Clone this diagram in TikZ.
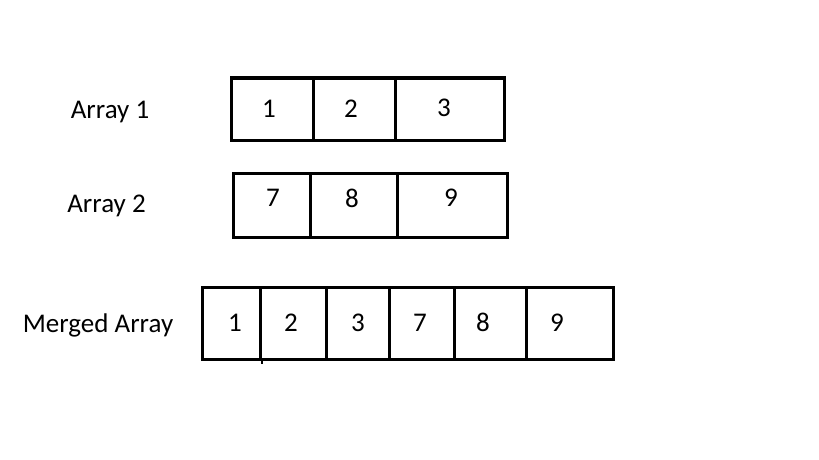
\documentclass[tikz,border=0pt]{standalone}
\usepackage{fontspec}
\setmainfont{Carlito}
\usepackage{tikz}

\begin{document}
\begin{tikzpicture}[x=1pt,y=-1pt]
    \tikzset{cell/.style = {shape=rectangle,draw,line width=3pt,inner sep=0pt}}
    \tikzset{txt/.style = {font=\fontsize{27}{32}\selectfont,inner sep=0pt}}
    \useasboundingbox (0,0) rectangle (819,460);
    % labels
    \node[txt,anchor=base] (l1) at (110,118) {Array 1};
    \node[txt,anchor=base] (l2) at (106.5,212) {Array 2};
    \node[txt,anchor=base] (l3) at (98,332) {Merged Array};
    % array 1
    \node[cell,minimum width=82pt,minimum height=62pt] (a1) at (272,109) {};
    \node[cell,minimum width=82pt,minimum height=62pt] (a2) at (354,109) {};
    \node[cell,minimum width=109pt,minimum height=62pt] (a3) at (449.5,109) {};
    \node[txt] (t11) at (269,108.5) {1};
    \node[txt] (t12) at (351,108.5) {2};
    \node[txt] (t13) at (444,107.5) {3};
    % array 2
    \node[cell,minimum width=77pt,minimum height=64pt] (b1) at (271.5,205) {};
    \node[cell,minimum width=87pt,minimum height=64pt] (b2) at (353.5,205) {};
    \node[cell,minimum width=110pt,minimum height=64pt] (b3) at (452,205) {};
    \node[txt] (t21) at (273,198) {7};
    \node[txt] (t22) at (352,198) {8};
    \node[txt] (t23) at (451,198) {9};
    % merged array
    \node[cell,minimum width=58pt,minimum height=72pt] (c1) at (231,323) {};
    \node[cell,minimum width=66pt,minimum height=72pt] (c2) at (293,323) {};
    \node[cell,minimum width=63pt,minimum height=72pt] (c3) at (357.5,323) {};
    \node[cell,minimum width=65pt,minimum height=72pt] (c4) at (421.5,323) {};
    \node[cell,minimum width=72pt,minimum height=72pt] (c5) at (490,323) {};
    \node[cell,minimum width=87pt,minimum height=72pt] (c6) at (569.5,323) {};
    \node[txt] (t31) at (235,322.5) {1};
    \node[txt] (t32) at (291,322.5) {2};
    \node[txt] (t33) at (358,322.5) {3};
    \node[txt] (t34) at (420,322.5) {7};
    \node[txt] (t35) at (483,322.5) {8};
    \node[txt] (t36) at (557,322.5) {9};
    \draw[line width=2pt] (c1.south east) -- ++(0,3);
\end{tikzpicture}
\end{document}
